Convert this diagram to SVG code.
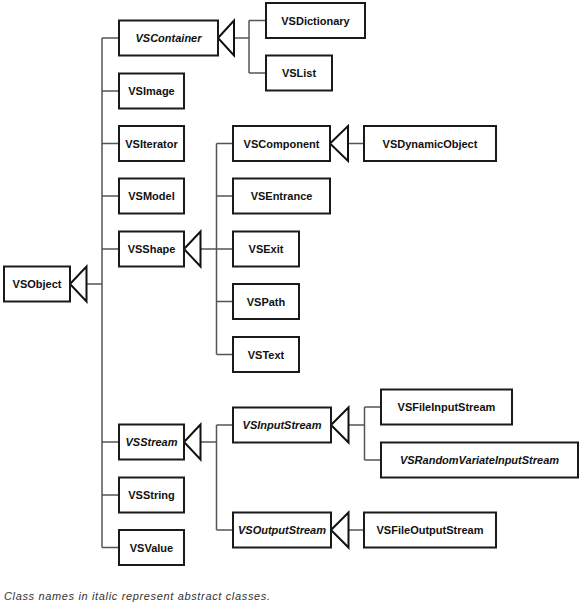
<svg xmlns="http://www.w3.org/2000/svg" width="580" height="607" viewBox="0 0 580 607">
<style>
.box rect{fill:#fff;stroke:#1a1a1a;stroke-width:2}
.box text{font-family:"Liberation Sans",Arial,sans-serif;font-size:11px;font-weight:bold;fill:#111;text-anchor:middle}
.box text.abs{font-style:italic}
.tri{fill:#fff;stroke:#111;stroke-width:2;stroke-linejoin:miter}
#connectors path{fill:none;stroke:#555;stroke-width:1.5}
.cap{font-family:"Liberation Sans",Arial,sans-serif;font-size:11px;font-style:italic;fill:#333}
</style>
<rect width="580" height="607" fill="#fff"/>
<g id="connectors">
<path d="M86.5 284H102M102 38V547.5M102 38H119M102 91H119M102 143.5H119M102 196H119M102 249H119M102 442H119M102 495H119M102 547.5H119"/>
<path d="M234 38H249M249 20.5V73M249 20.5H266M249 73H266"/>
<path d="M200.5 249H233M216.5 143.5V354.5M216.5 143.5H233M216.5 196H233M216.5 301.5H233M216.5 354.5H233"/>
<path d="M348 143.5H364"/>
<path d="M200.5 442H216.5M216.5 425V530M216.5 425H233M216.5 530H233"/>
<path d="M348.5 425H364.5M364.5 407V460M364.5 407H381M364.5 460H381"/>
<path d="M348.5 530H364"/>
<polygon class="tri" points="70,284 86.5,266.5 86.5,301.5"/>
<polygon class="tri" points="218,38 234,20.5 234,55.5"/>
<polygon class="tri" points="184,249 200.5,231.5 200.5,266.5"/>
<polygon class="tri" points="330,143.5 348,126 348,161"/>
<polygon class="tri" points="184,442 200.5,424.5 200.5,459.5"/>
<polygon class="tri" points="331,425 348.5,407.5 348.5,442.5"/>
<polygon class="tri" points="331,530 348.5,512.5 348.5,547.5"/>
</g>
<g id="VSObject" class="box"><rect x="4" y="266.5" width="66" height="35"/><text x="37" y="288">VSObject</text></g>
<g id="VSContainer" class="box"><rect x="119" y="20.5" width="99" height="35"/><text class="abs" x="168.5" y="42">VSContainer</text></g>
<g id="VSImage" class="box"><rect x="119" y="73.5" width="65" height="35"/><text x="151.5" y="95">VSImage</text></g>
<g id="VSIterator" class="box"><rect x="119" y="126" width="65" height="35"/><text x="151.5" y="147.5">VSIterator</text></g>
<g id="VSModel" class="box"><rect x="119" y="178.5" width="65" height="35"/><text x="151.5" y="200">VSModel</text></g>
<g id="VSShape" class="box"><rect x="119" y="231.5" width="65" height="35"/><text x="151.5" y="253">VSShape</text></g>
<g id="VSStream" class="box"><rect x="119" y="424.5" width="65" height="35"/><text class="abs" x="151.5" y="446">VSStream</text></g>
<g id="VSString" class="box"><rect x="119" y="477.5" width="65" height="35"/><text x="151.5" y="499">VSString</text></g>
<g id="VSValue" class="box"><rect x="119" y="530" width="65" height="35"/><text x="151.5" y="551.5">VSValue</text></g>
<g id="VSDictionary" class="box"><rect x="266" y="3" width="99" height="35"/><text x="315.5" y="24.5">VSDictionary</text></g>
<g id="VSList" class="box"><rect x="266" y="55.5" width="66" height="35"/><text x="299" y="77">VSList</text></g>
<g id="VSComponent" class="box"><rect x="233" y="126" width="97" height="35"/><text x="281.5" y="147.5">VSComponent</text></g>
<g id="VSDynamicObject" class="box"><rect x="364" y="126" width="132" height="35"/><text x="430" y="147.5">VSDynamicObject</text></g>
<g id="VSEntrance" class="box"><rect x="233" y="178.5" width="97" height="35"/><text x="281.5" y="200">VSEntrance</text></g>
<g id="VSExit" class="box"><rect x="233" y="231.5" width="66" height="35"/><text x="266" y="253">VSExit</text></g>
<g id="VSPath" class="box"><rect x="233" y="284" width="66" height="35"/><text x="266" y="305.5">VSPath</text></g>
<g id="VSText" class="box"><rect x="233" y="337" width="66" height="35"/><text x="266" y="358.5">VSText</text></g>
<g id="VSInputStream" class="box"><rect x="233" y="407.5" width="98" height="35"/><text class="abs" x="282" y="429">VSInputStream</text></g>
<g id="VSFileInputStream" class="box"><rect x="381" y="389.5" width="131" height="35"/><text x="446.5" y="411">VSFileInputStream</text></g>
<g id="VSRandomVariateInputStream" class="box"><rect x="381" y="442.5" width="197" height="35"/><text class="abs" x="479.5" y="464">VSRandomVariateInputStream</text></g>
<g id="VSOutputStream" class="box"><rect x="233" y="512.5" width="98" height="35"/><text class="abs" x="282" y="534">VSOutputStream</text></g>
<g id="VSFileOutputStream" class="box"><rect x="364" y="512.5" width="132" height="35"/><text x="430" y="534">VSFileOutputStream</text></g>
<text class="cap" x="4" y="600" textLength="266" lengthAdjust="spacing">Class names in italic represent abstract classes.</text>
</svg>
